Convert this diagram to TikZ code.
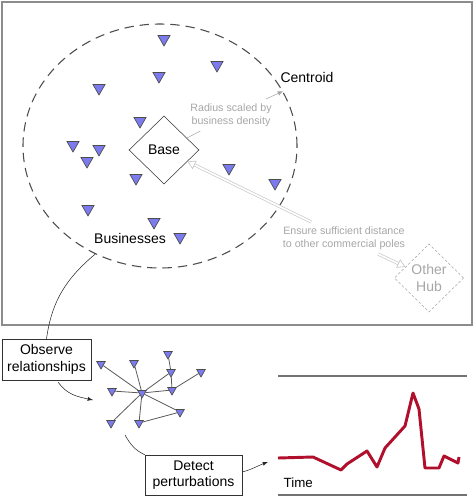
\documentclass[tikz,border=0pt]{standalone}
\usepackage{fontspec}
\setmainfont{Liberation Sans}
\usetikzlibrary{arrows,arrows.meta,shapes.geometric,calc}
\tikzset{>=latex}
\definecolor{bizblue}{HTML}{7B7BEE}
\definecolor{hintgray}{HTML}{A6A6A6}
\definecolor{spikered}{HTML}{B0102C}
\tikzset{
	biz/.style={regular polygon, regular polygon sides=3, shape border rotate=180,
			draw=black!70, fill=bizblue, inner sep=0pt, minimum size=10.5pt, line width=0.5pt},
	smallbiz/.style={biz, minimum size=7.5pt},
	stepbox/.style={draw=black!80, fill=white, align=center, inner sep=0pt},
	hint/.style={text=hintgray, align=center, font=\fontsize{8}{9.5}\selectfont},
	ghost/.style={draw=black!22, double=white, double distance=1.3pt, line width=0.5pt,
			-{Triangle[open, length=6pt, width=7pt]}}
}

\begin{document}
\begin{tikzpicture}[x=0.75pt, y=0.75pt, font=\fontsize{10.5}{12.5}\selectfont]
	\useasboundingbox (0,0) rectangle (474,-497);
	\draw[black!45, line width=1.2pt] (2,-2) rectangle (472,-325);

	% catchment area
	\node[ellipse, draw=black!70, dash pattern=on 7pt off 4.5pt, line width=0.8pt,
		minimum width=205.5pt, minimum height=183pt] (hull) at (160,-146) {};
	\foreach \x/\y [count=\i] in {164/39, 217/65, 159/76, 99/88, 140/121, 73/145, 99/149,
			87/161, 136/178, 229/168, 275/183, 88/209, 154/222, 180/237}
		\node[biz] (b\i) at (\x,-\y) {};
	\node[diamond, draw=black!80, fill=white, minimum width=52.5pt, minimum height=51pt,
		inner sep=0pt] (base) at (164,-150) {Base};
	\node (centroid) at (307,-77) {Centroid};
	\node (businesses) at (130,-238) {Businesses};
	\node[hint] (radius) at (231,-115) {Radius scaled by\\business density};
	\draw[hintgray] (base) -- (radius);
	\draw[hintgray, -{Latex[length=4pt, width=3.5pt]}] (radius) -- (hull.24);

	% other hub
	\node[diamond, draw=hintgray, dash pattern=on 2pt off 1.5pt, text=hintgray, align=center,
		minimum width=52pt, minimum height=51pt, inner sep=0pt] (hub) at (429,-278) {Other\\Hub};
	\node[hint] (ensure) at (344,-238) {Ensure sufficient distance\\to other commercial poles};
	\draw[ghost] (ensure) -- (base);
	\draw[ghost] (ensure) -- (hub);

	% relationships
	\node[stepbox, minimum width=66.75pt, minimum height=30.75pt] (observe) at (46.5,-359.5)
		{Observe\\relationships};
	\draw (businesses.south west) ++(6,-6) coordinate (bstart);
	\draw[black!85] (bstart) to[out=220, in=82] (observe.north);

	\foreach \x/\y [count=\i] in {101/364, 134/363, 168/354, 171/372, 201/372, 112/391,
			172/390, 180/412, 111/423, 139/423}
		\node[smallbiz] (n\i) at (\x,-\y) {};
	\node[smallbiz] (nh) at (142,-393) {};
	\foreach \a/\b in {nh/n1, nh/n2, nh/n4, nh/n6, nh/n7, nh/n8, nh/n9, nh/n10,
			n3/n4, n4/n7, n7/n5, n10/n8}
		\draw[black!65, line width=0.6pt] (\a) -- (\b);

	\coordinate (netin) at (93,-400);
	\draw[->, black!85] (observe.south east) ++(-33,-2) to[out=-55, in=168] (netin);

	% perturbations
	\node[stepbox, minimum width=72.75pt, minimum height=30pt] (detect) at (193.5,-475)
		{Detect\\perturbations};
	\coordinate (netout) at (125,-435);
	\draw[black!85] (netout) to[out=-60, in=155] (detect.north west);
	\coordinate (chartin) at (268,-462);
	\draw[->, black!85] (detect.east) ++(0,3) to[out=15, in=200] (chartin);

	\draw[black!55, line width=0.8pt] (278,-376) -- (467,-376);
	\draw[black!55, line width=0.8pt] (278,-495) -- (467,-495);
	\node[anchor=west, font=\fontsize{10}{12}\selectfont] (time) at (279,-483) {Time};
	\draw[spikered, line width=2.2pt, line join=round]
		(278,-458) -- (313,-457) -- (341,-470) -- (347,-464) -- (367,-451) -- (377,-467)
		-- (385,-448) -- (405,-426) -- (413,-393) -- (419,-409) -- (425,-468) -- (439,-468)
		-- (444,-456) -- (458,-463) -- (459,-457);
\end{tikzpicture}
\end{document}
